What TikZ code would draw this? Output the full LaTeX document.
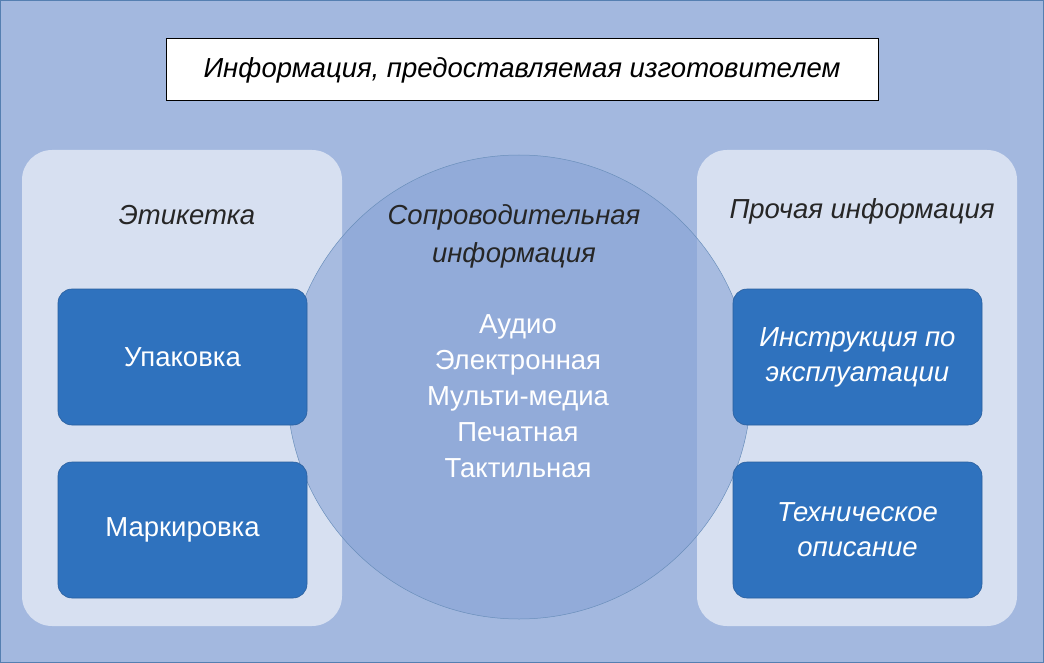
\documentclass[tikz,border=0pt]{standalone}
\usepackage{fontspec}
\setmainfont{Liberation Sans}
\begin{document}
\begin{tikzpicture}[x=1pt,y=-1pt,
  bbox/.style={fill=boxc,draw=boxd,line width=0.6pt,rounded corners=14pt,text=white,font=\fontsize{27.5}{33}\selectfont,align=center},
  lab/.style={font=\itshape\fontsize{27.5}{38}\selectfont,align=center,text=black!85}]
\definecolor{bgc}{HTML}{A3B8DF}
\definecolor{panelc}{HTML}{D7E0F1}
\definecolor{boxc}{HTML}{2F72BE}
\definecolor{boxd}{HTML}{2A5F9E}
\definecolor{circc}{HTML}{88A3D6}
\fill[bgc,draw=boxd!80,line width=1pt] (0.5,0.5) rectangle (1043.5,662.5);
\useasboundingbox (0,0) rectangle (1044,663);
\node[draw=black,line width=1pt,fill=white,minimum width=712pt,minimum height=62pt,font=\itshape\fontsize{27.5}{33}\selectfont] (title) at (522,70) {Информация, предоставляемая изготовителем};
\fill[panelc,rounded corners=30pt] (22,150) rectangle (342,626);
\fill[panelc,rounded corners=30pt] (697,150) rectangle (1017,626);
\node[circle,minimum size=464pt,fill=circc,fill opacity=0.6,draw=boxd!70,line width=0.5pt] (circ) at (519,387) {};
\node[lab] (etik) at (187,215) {Этикетка};
\node[lab] (proch) at (862,211) {Прочая информация};
\node[lab] (sopr) at (514,236) {Сопроводительная\\информация};
\node[font=\fontsize{27.5}{36}\selectfont,text=white,align=center] (list) at (518,396) {Аудио\\Электронная\\Мульти-медиа\\Печатная\\Тактильная};
\node[bbox,minimum width=249pt,minimum height=136pt] (upak) at (182.5,357) {Упаковка};
\node[bbox,minimum width=249pt,minimum height=136pt] (mark) at (182.5,530) {Маркировка};
\node[bbox,minimum width=249pt,minimum height=136pt,font=\itshape\fontsize{27.5}{35}\selectfont] (instr) at (857.5,357) {Инструкция по\\эксплуатации};
\node[bbox,minimum width=249pt,minimum height=136pt,font=\itshape\fontsize{27.5}{35}\selectfont] (tech) at (857.5,530) {Техническое\\описание};
\end{tikzpicture}
\end{document}
